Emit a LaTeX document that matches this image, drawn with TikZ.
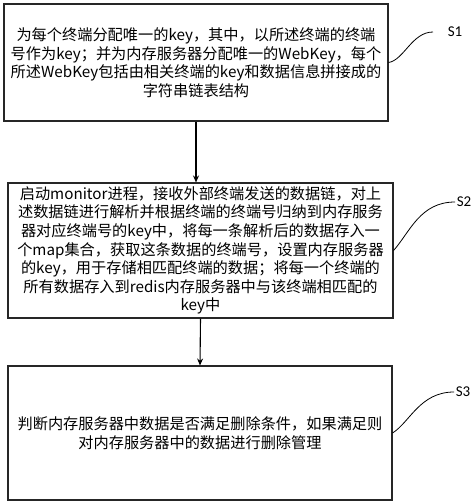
\documentclass[tikz,border=0pt]{standalone}
\usepackage{fontspec}
\setmainfont{Noto Sans CJK SC}
\newfontfamily\labfont{Carlito}
\usetikzlibrary{arrows.meta}
\tikzset{
  stepbox/.style={draw=black!85,line width=1.1pt,inner sep=1pt,align=center,
    font=\fontsize{15.2}{18.6}\selectfont},
  steplabel/.style={font=\labfont\fontsize{15}{16}\selectfont,inner sep=1.5pt},
  flow/.style={line width=1.1pt,-{Stealth[length=7pt,width=6pt]}},
  tag/.style={line width=0.8pt}
}
\begin{document}
\begin{tikzpicture}[x=1pt,y=-1pt]
\useasboundingbox (0,0) rectangle (474,504);

\node[stepbox,minimum width=384pt,minimum height=117pt] (box1) at (196,62.5)
  {为每个终端分配唯一的key，其中，以所述终端的终端\\
   号作为key；并为内存服务器分配唯一的WebKey，每个\\
   所述WebKey包括由相关终端的key和数据信息拼接成的\\
   字符串链表结构};
\node[stepbox,minimum width=385pt,minimum height=135pt] (box2) at (200.5,250.5)
  {启动monitor进程，接收外部终端发送的数据链，对上\\
   述数据链进行解析并根据终端的终端号归纳到内存服务\\
   器对应终端号的key中，将每一条解析后的数据存入一\\
   个map集合，获取这条数据的终端号，设置内存服务器\\
   的key，用于存储相匹配终端的数据；将每一个终端的\\
   所有数据存入到redis内存服务器中与该终端相匹配的\\
   key中};
\node[stepbox,minimum width=384pt,minimum height=134pt] (box3) at (200,433)
  {判断内存服务器中数据是否满足删除条件，如果满足则\\
   对内存服务器中的数据进行删除管理};

\node[steplabel] (s1) at (455,32) {S1};
\node[steplabel] (s2) at (464,202) {S2};
\node[steplabel] (s3) at (463,392) {S3};

\draw[flow] (box1.south) -- (box1.south |- box2.north);
\draw[flow] (box2.south) -- (box3.north);

\draw[tag] (box1.east) .. controls (404,60) and (412,32) .. (433,32);
\draw[tag] (box2.east) .. controls (410,232) and (420,202) .. (s2.west);
\draw[tag] (box3.east) .. controls (410,422) and (420,392) .. (s3.west);
\end{tikzpicture}
\end{document}
